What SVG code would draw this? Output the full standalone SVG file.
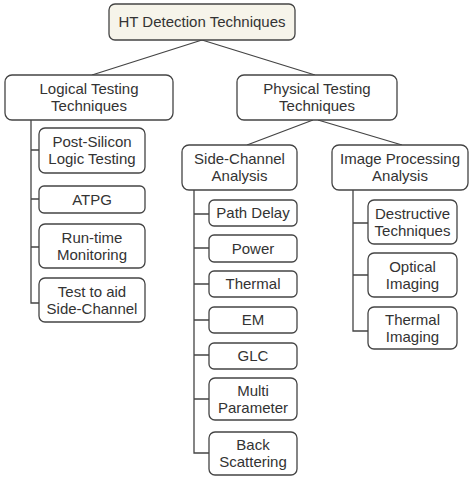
<svg xmlns="http://www.w3.org/2000/svg" width="474" height="480" viewBox="0 0 474 480">
<style>
rect.n{fill:#ffffff;stroke:#444444;stroke-width:1.3}
rect.root{fill:#f6f4ea}
text{font-family:"Liberation Sans",Arial,sans-serif;font-size:15px;fill:#333333;text-anchor:middle}
.c{fill:none;stroke:#444444;stroke-width:1.3}
</style>
<rect width="474" height="480" fill="#ffffff"/>
<g id="connectors">
<path class="c" d="M202,40 L92,75 M202,40 L315,75"/>
<path class="c" d="M313,120 L247,145 M318,120 L402,145"/>
<path class="c" d="M31,120 V303 H39 M31,150 H39 M31,199 H39 M31,247 H39"/>
<path class="c" d="M194,190 V453 H209 M194,214 H209 M194,248 H209 M194,284 H209 M194,320 H209 M194,355 H209 M194,399 H209"/>
<path class="c" d="M353,190 V331 H368 M353,223 H368 M353,275 H368"/>
</g>
<g id="root"><rect class="n root" x="109" y="4" width="186" height="36" rx="6"/><text x="202" y="27">HT Detection Techniques</text></g>
<g id="logical"><rect class="n" x="5" y="75" width="168" height="45" rx="7"/><text x="89" y="94">Logical Testing</text><text x="89" y="111">Techniques</text></g>
<g id="physical"><rect class="n" x="237" y="75" width="160" height="45" rx="7"/><text x="317" y="94">Physical Testing</text><text x="317" y="111">Techniques</text></g>
<g id="postsilicon"><rect class="n" x="39" y="128" width="106" height="45" rx="6"/><text x="92" y="147">Post-Silicon</text><text x="92" y="164">Logic Testing</text></g>
<g id="atpg"><rect class="n" x="39" y="186" width="106" height="27" rx="5"/><text x="92" y="204.5">ATPG</text></g>
<g id="runtime"><rect class="n" x="39" y="224" width="106" height="44" rx="6"/><text x="92" y="242.5">Run-time</text><text x="92" y="259.5">Monitoring</text></g>
<g id="testaid"><rect class="n" x="39" y="278" width="106" height="44" rx="6"/><text x="92" y="296.5">Test to aid</text><text x="92" y="313.5">Side-Channel</text></g>
<g id="sidechannel"><rect class="n" x="182" y="145" width="115" height="45" rx="7"/><text x="239.5" y="164">Side-Channel</text><text x="239.5" y="181">Analysis</text></g>
<g id="imageproc"><rect class="n" x="332" y="145" width="136" height="45" rx="7"/><text x="400" y="164">Image Processing</text><text x="400" y="181">Analysis</text></g>
<g id="pathdelay"><rect class="n" x="209" y="200" width="88" height="26" rx="5"/><text x="253" y="218">Path Delay</text></g>
<g id="power"><rect class="n" x="209" y="235" width="88" height="27" rx="5"/><text x="253" y="253.5">Power</text></g>
<g id="thermal"><rect class="n" x="209" y="271" width="88" height="26" rx="5"/><text x="253" y="289">Thermal</text></g>
<g id="em"><rect class="n" x="209" y="307" width="88" height="26" rx="5"/><text x="253" y="325">EM</text></g>
<g id="glc"><rect class="n" x="209" y="343" width="88" height="26" rx="5"/><text x="253" y="361">GLC</text></g>
<g id="multi"><rect class="n" x="209" y="378" width="88" height="42" rx="6"/><text x="253" y="395.5">Multi</text><text x="253" y="412.5">Parameter</text></g>
<g id="back"><rect class="n" x="209" y="432" width="88" height="43" rx="6"/><text x="253" y="450">Back</text><text x="253" y="467">Scattering</text></g>
<g id="destructive"><rect class="n" x="368" y="200" width="89" height="44" rx="6"/><text x="412.5" y="218.5">Destructive</text><text x="412.5" y="235.5">Techniques</text></g>
<g id="optical"><rect class="n" x="368" y="253" width="89" height="44" rx="6"/><text x="412.5" y="271.5">Optical</text><text x="412.5" y="288.5">Imaging</text></g>
<g id="thermalimg"><rect class="n" x="368" y="307" width="89" height="42" rx="6"/><text x="412.5" y="324.5">Thermal</text><text x="412.5" y="341.5">Imaging</text></g>
</svg>
